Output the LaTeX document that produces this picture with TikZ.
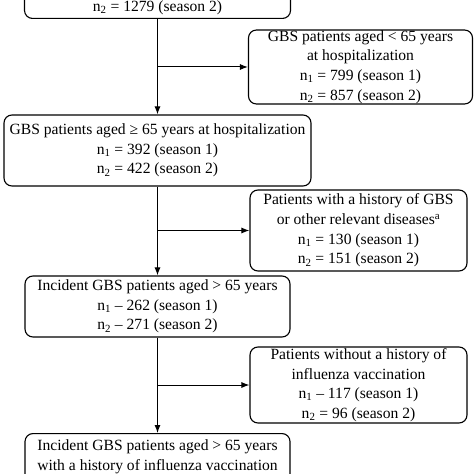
\documentclass[tikz,border=0pt]{standalone}
\usepackage{fontspec}
\setmainfont{Liberation Serif}
\usetikzlibrary{arrows.meta}
\newcommand{\nsub}[1]{n\textsubscript{#1}}
\tikzset{
  flowbox/.style={draw, line width=1.1bp, rounded corners=8bp, align=center, inner sep=0pt,
    font=\fontsize{15.6bp}{19.6bp}\selectfont},
  flowarrow/.style={-{Latex[length=8bp,width=6bp]}, line width=1bp}
}
\begin{document}
\begin{tikzpicture}[x=1bp,y=1bp,yscale=-1,xscale=1]
\useasboundingbox (0,0) rectangle (474,474);
\clip (0,0) rectangle (474,474);

% Main boxes
\node[flowbox, anchor=south, minimum width=266bp, text height=60bp, text depth=7bp] (total) at (157.5,19) {\nsub{2} = 1279 (season 2)};
\node[flowbox, minimum width=307bp, minimum height=71bp] (aged) at (157.5,150.5) {GBS patients aged ≥ 65 years at hospitalization\\\nsub{1} = 392 (season 1)\\\nsub{2} = 422 (season 2)};
\node[flowbox, minimum width=265bp, minimum height=61bp] (incident) at (157.5,306.5) {Incident GBS patients aged > 65 years\\\nsub{1} – 262 (season 1)\\\nsub{2} – 271 (season 2)};
\node[flowbox, anchor=north, minimum width=265bp, inner ysep=6.5bp, text depth=40bp] (vacc) at (157.5,433) {Incident GBS patients aged > 65 years\\with a history of influenza vaccination};

% Excluded boxes
\node[flowbox, minimum width=224bp, minimum height=74bp] (young) at (360.5,67) {GBS patients aged < 65 years\\at hospitalization\\\nsub{1} = 799 (season 1)\\\nsub{2} = 857 (season 2)};
\node[flowbox, minimum width=217bp, minimum height=81bp] (history) at (358.5,230.5) {Patients with a history of GBS\\or other relevant diseases\textsuperscript{a}\\\nsub{1} = 130 (season 1)\\\nsub{2} = 151 (season 2)};
\node[flowbox, minimum width=217bp, minimum height=76bp] (unvacc) at (358.5,385) {Patients without a history of\\influenza vaccination\\\nsub{1} – 117 (season 1)\\\nsub{2} = 96 (season 2)};

% Arrows
\draw[flowarrow] (total.south) -- (aged.north);
\draw[flowarrow] (aged.south) -- (incident.north);
\draw[flowarrow] (incident.south) -- (vacc.north);
\draw[flowarrow] (total.south |- young.west) -- (young.west);
\draw[flowarrow] (aged.south |- history.west) -- (history.west);
\draw[flowarrow] (incident.south |- unvacc.west) -- (unvacc.west);

\end{tikzpicture}
\end{document}
